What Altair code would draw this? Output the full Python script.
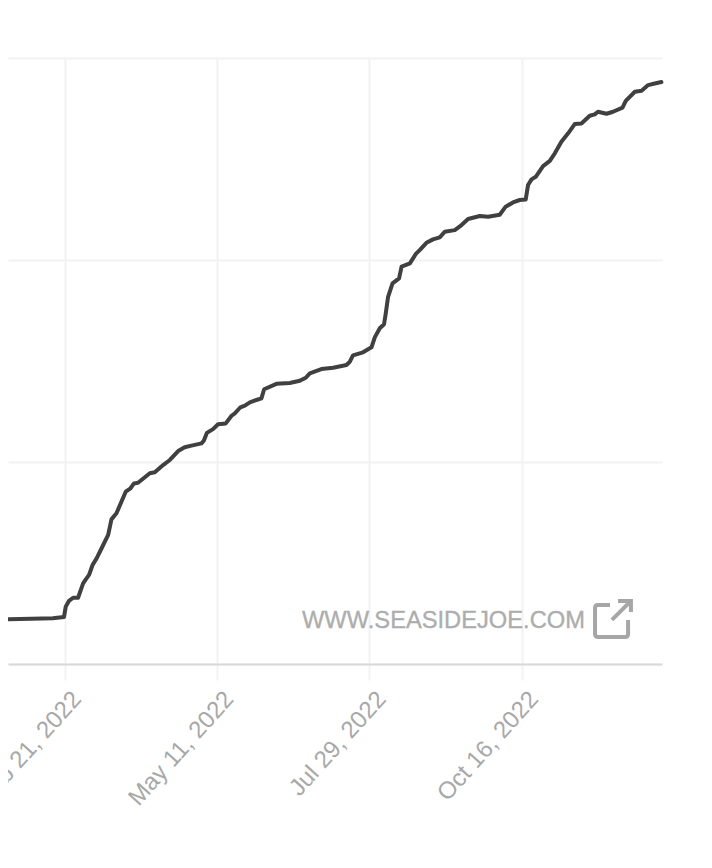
import altair as alt
import pandas as pd

# day of year 2022 (Jan 1 = 0)
days = [21.4,33.7,44.8,50.6,51.5,53.2,55.3,57.9,60.5,61.9,63.6,65.4,67.5,70.1,73.5,75.2,77.8,82.6,85.1,86.9,
        89.0,95.1,97.7,102.0,105.5,109.8,113.2,116.7,121.9,123.1,124.7,127.9,130.5,134.5,137.5,139.2,142.1,144.4,147.0,150.4,
        153.0,154.4,160.8,167.7,172.9,176.0,178.1,184.1,190.2,197.1,198.8,200.5,205.7,210.1,211.8,214.4,216.6,217.5,218.7,221.0,
        224.4,225.7,230.0,233.1,235.1,238.6,242.0,245.5,248.1,253.3,256.8,260.2,266.3,270.6,276.6,279.7,283.5,287.0,290.1,291.3,
        293.1,295.3,299.1,302.6,305.2,308.6,312.1,315.5,319.0,323.3,325.9,327.6,332.0,335.4,340.3,342.0,346.7,350.2,353.6,357.0,360.5]
values = [22.1,22.4,22.6,23.3,28.4,31.3,32.8,32.8,39.9,41.9,44.1,49.0,52.3,57.3,63.9,71.6,74.6,85.3,87.0,89.4,
          89.7,94.4,94.9,98.5,101.0,105.4,107.3,108.1,109.2,110.5,114.4,116.3,118.7,119.1,122.9,124.1,127.1,127.9,129.5,130.7,
          131.5,136.0,138.7,139.1,140.2,141.7,143.9,146.0,146.7,148.0,149.6,152.8,154.3,156.8,161.7,166.2,168.2,173.6,181.8,188.4,
          190.9,196.7,198.3,203.0,204.9,208.5,210.2,211.2,214.0,214.8,217.3,220.3,221.8,221.4,222.4,226.4,228.5,229.7,230.0,237.1,
          239.9,241.2,246.5,249.1,252.8,258.5,262.7,267.3,267.6,271.4,272.1,273.4,272.4,273.4,275.4,278.8,283.3,283.8,286.6,287.4,288.1]
y_ticks = [0, 100, 200, 300]
watermark = "WWW.SEASIDEJOE.COM"

df = pd.DataFrame({
    "date": pd.Timestamp("2022-01-01") + pd.to_timedelta(days, unit="D"),
    "value": values,
})

x_ticks = [
    alt.DateTime(year=2022, month="feb", date=21),
    alt.DateTime(year=2022, month="may", date=11),
    alt.DateTime(year=2022, month="jul", date=29),
    alt.DateTime(year=2022, month="oct", date=16),
]
x_domain = [
    alt.DateTime(year=2022, month="jan", date=22, hours=13),
    alt.DateTime(year=2022, month="dec", date=27, hours=19),
]

line = alt.Chart(df).mark_line(
    color="#404040", strokeWidth=4, strokeJoin="round", strokeCap="round", interpolate="linear"
).encode(
    x=alt.X("date:T", title=None, scale=alt.Scale(domain=x_domain), axis=alt.Axis(
        values=x_ticks, format="%b %d, %Y", labelAngle=312, labelAlign="right", labelBaseline="middle",
        labelFont="Liberation Sans", labelFontSize=24, labelColor="#a8a8a8", labelPadding=15, labelOffset=12,
        labelOverlap=False, labelBound=False, labelFlush=False,
        tickSize=16, tickColor="#f2f2f2", tickWidth=2,
        grid=True, gridColor="#f2f2f2", gridWidth=2,
        domainColor="#d9d9d9", domainWidth=2,
    )),
    y=alt.Y("value:Q", title=None, scale=alt.Scale(domain=[0, 300], nice=False), axis=alt.Axis(
        values=y_ticks, labels=False, ticks=False, domain=False,
        grid=True, gridColor="#f2f2f2", gridWidth=2,
    )),
)

one = pd.DataFrame({"k": [0]})

text = alt.Chart(one).mark_text(
    font="Liberation Sans", fontSize=23.7, color="#adadad", stroke="#adadad", strokeWidth=0.35,
    align="left", baseline="alphabetic"
).encode(x=alt.value(294), y=alt.value(570), text=alt.value(watermark))

icon_path = (
    "M-0.13,-0.74 L-0.76,-0.74 Q-0.92,-0.74 -0.92,-0.58 L-0.92,0.79 Q-0.92,0.95 -0.76,0.95 "
    "L0.66,0.95 Q0.82,0.95 0.82,0.79 L0.82,0.05 "
    "M-0.03,0.05 L0.97,-0.95 M0.29,-0.95 L0.97,-0.95 L0.97,-0.37"
)
icon = alt.Chart(one).mark_point(
    shape=icon_path, size=1444, filled=False, stroke="#a6a6a6", strokeWidth=4, opacity=1
).encode(x=alt.value(604.5), y=alt.value(561))

chart = (line + text + icon).properties(
    width=654, height=606,
    padding={"left": 0, "top": 50, "right": 42, "bottom": 190},
    autosize=alt.AutoSizeParams(type="none"),
).configure_view(stroke=None)

chart.save("out.html", embed_options={"renderer": "svg", "actions": False})
